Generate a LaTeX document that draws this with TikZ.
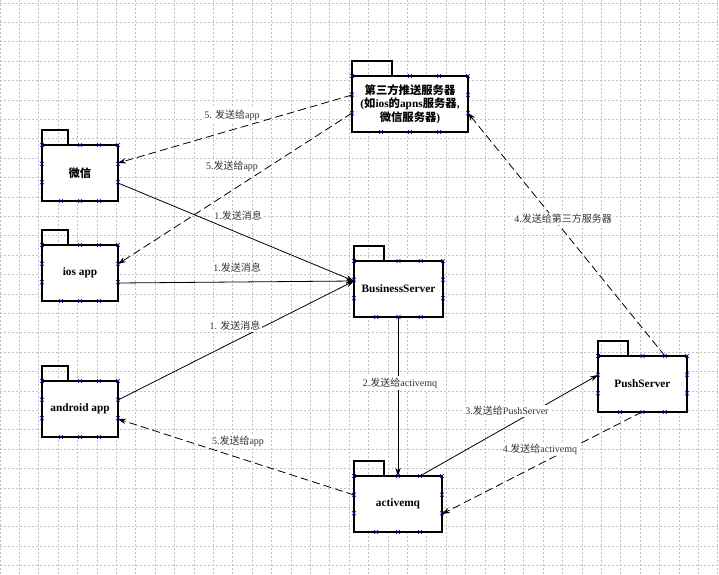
\documentclass[tikz,border=0pt]{standalone}
\usepackage{fontspec}
\setmainfont{Liberation Serif}
\newfontfamily\cjk{Noto Sans CJK SC}
\newcommand{\cj}[1]{{\cjk #1}}
\usetikzlibrary{arrows.meta}
\begin{document}
\begin{tikzpicture}[x=0.75pt,y=-0.75pt,
  box/.style={draw=black,line width=0.8pt},
  mk/.style={blue!70!black,line width=0.4pt},
  ttl/.style={font=\bfseries\fontsize{8.5}{10}\selectfont,align=center},
  lab/.style={font=\fontsize{7.5}{9}\selectfont,text=black!80,fill=white,inner sep=1pt},
  con/.style={line width=0.6pt,-{Stealth[length=6pt,width=4pt]}},
  dcon/.style={con,dash pattern=on 6pt off 3pt}]
\useasboundingbox (0,0) rectangle (719,575);
\fill[white] (0,0) rectangle (719,575);
\foreach \i in {0,...,37} \draw[black!25,dash pattern=on 1.5pt off 1.5pt,line width=0.5pt] (\i*19.4,0) -- (\i*19.4,575);
\foreach \i in {0,...,29} \draw[black!25,dash pattern=on 1.5pt off 1.5pt,line width=0.5pt] (0,3+\i*19.4) -- (719,3+\i*19.4);
% package macro: name, x1,y1,x2,y2, tabwidth, text
\newcommand{\pkg}[7]{%
  \fill[white] (#2,#3) rectangle (#4,#5);
  \draw[box] (#2,#3) rectangle (#4,#5);
  \draw[box] (#2,#3) -- (#2,#3-15) -- (#2+#6,#3-15) -- (#2+#6,#3);
  \node[ttl] (#1) at ({(#2+#4)/2},{(#3+#5)/2}) {#7};
  \foreach \p in {(#2,#3),({#2+0.5*(#4-#2)},#3),({#2+0.75*(#4-#2)},#3),(#4,#3),
     ({#2+0.25*(#4-#2)},#5),({#2+0.5*(#4-#2)},#5),({#2+0.75*(#4-#2)},#5),
     (#2,{#3+(#5-#3)/3}),(#2,{#3+2*(#5-#3)/3}),(#4,{#3+(#5-#3)/3}),(#4,{#3+2*(#5-#3)/3})}
     \draw[mk] \p ++(-2,-2) -- ++(4,4) \p ++(-2,2) -- ++(4,-4);
}
\pkg{wx}{42}{145}{118}{201}{26}{\cj{微信}}
\pkg{ios}{42}{245}{118}{301}{26}{ios app}
\pkg{and}{42}{381}{118}{437}{26}{android app}
\pkg{tp}{352}{76}{468}{132}{40}{\cj{第三方推送服务器}\\(\cj{如}ios\cj{的}apns\cj{服务器},\\\cj{微信服务器})}
\pkg{bs}{354}{261}{443}{317}{30}{BusinessServer}
\pkg{mq}{354}{476}{442}{532}{30}{activemq}
\pkg{ps}{598}{356}{687}{412}{30}{PushServer}
% connectors
\coordinate (bsL) at (354,281);
\draw[con] (118,183) -- (bsL);
\draw[con] (118,283) -- (bsL);
\draw[con] (118,400) -- (bsL);
\draw[con] (398,317) -- (398,476);
\draw[con] (420,476) -- (598,375);
\draw[dcon] (642,412) -- (442,514);
\draw[dcon] (665,356) -- (468,113);
\draw[dcon] (352,95) -- (118,163);
\draw[dcon] (352,113) -- (118,264);
\draw[dcon] (354,495) -- (118,419);
% labels
\node[lab] at (238,216) {1.\cj{发送消息}};
\node[lab] at (237,268) {1.\cj{发送消息}};
\node[lab] at (235,326) {1. \cj{发送消息}};
\node[lab] at (400,383) {2.\cj{发送给}activemq};
\node[lab] at (507,411) {3.\cj{发送给}PushServer};
\node[lab] at (540,449) {4.\cj{发送给}activemq};
\node[lab] at (563,219) {4.\cj{发送给第三方服务器}};
\node[lab] at (232,115) {5. \cj{发送给}app};
\node[lab] at (232,166) {5.\cj{发送给}app};
\node[lab] at (238,441) {5.\cj{发送给}app};
\end{tikzpicture}
\end{document}
